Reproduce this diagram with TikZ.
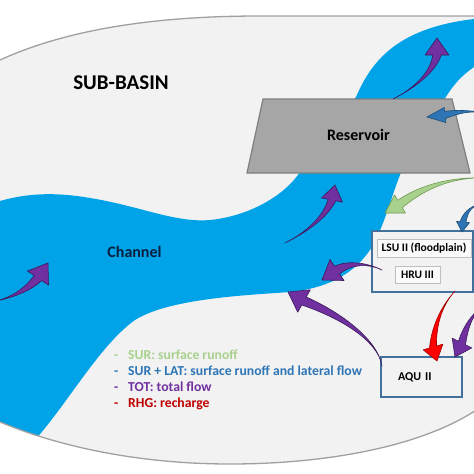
\documentclass[tikz,border=0pt]{standalone}
\usepackage{fontspec}
\setmainfont{Carlito}
\usetikzlibrary{calc}

\definecolor{basinfill}{HTML}{F2F2F2}
\definecolor{basinline}{HTML}{A0A0A0}
\definecolor{channelblue}{HTML}{00A2E8}
\definecolor{resfill}{HTML}{A6A6A6}
\definecolor{resline}{HTML}{7F7F7F}
\definecolor{boxline}{HTML}{41719C}
\definecolor{innerline}{HTML}{BFBFBF}
\definecolor{channeltext}{HTML}{0B1F3F}
\definecolor{totfill}{HTML}{7030A0}
\definecolor{totline}{HTML}{3A1A5A}
\definecolor{latfill}{HTML}{2E75B6}
\definecolor{latline}{HTML}{1F4E79}
\definecolor{surfill}{HTML}{A9D18E}
\definecolor{surline}{HTML}{6E9A4E}
\definecolor{rhgfill}{HTML}{FF0000}
\definecolor{rhgline}{HTML}{A00000}
\definecolor{rhgtext}{HTML}{C00000}

\tikzset{
  basin/.style={fill=basinfill},
  basinedge/.style={draw=basinline, line width=1.3pt},
  channel/.style={fill=channelblue},
  reservoir/.style={fill=resfill, draw=resline, line width=1.2pt},
  title/.style={font=\bfseries\fontsize{21}{24}\selectfont},
  bigtext/.style={font=\bfseries\fontsize{16}{18}\selectfont},
  unitbox/.style={draw=boxline, line width=1.6pt, fill=basinfill,
    font=\bfseries\fontsize{12}{14}\selectfont},
  labelbox/.style={draw=innerline, line width=0.8pt, fill=white!60!basinfill,
    inner sep=0pt, font=\bfseries\fontsize{11.5}{13}\selectfont},
  legend/.style={font=\bfseries\fontsize{13.7}{16}\selectfont, inner sep=0pt},
  barb/.store in=\barbw, barb=0.7,
  neck/.store in=\neckw, neck=0.25,
  tot/.style={fill=totfill, draw=totline, line width=0.6pt},
  lat/.style={fill=latfill, draw=latline, line width=0.6pt},
  sur/.style={fill=surfill, draw=surline, line width=0.6pt},
  rhg/.style={fill=rhgfill, draw=rhgline, line width=0.6pt}
}

% curved block arrow: style, tail, control 1, control 2, neck, tip
\newcommand\flowarrow[6]{%
  \begin{scope}[#1]
    \coordinate (nl) at ($(#5)!\neckw!90:(#6)$);
    \coordinate (nr) at ($(#5)!\neckw!-90:(#6)$);
    \coordinate (bl) at ($(#5)!\barbw!90:(#6)$);
    \coordinate (br) at ($(#5)!\barbw!-90:(#6)$);
    \coordinate (cl) at ($(#4)+0.6*(nl)-0.6*(#5)$);
    \coordinate (cr) at ($(#4)+0.6*(nr)-0.6*(#5)$);
    \draw[#1, line join=round] (#2) .. controls (#3) and (cl) .. (nl) -- (bl)
      -- (#6) -- (br) -- (nr) .. controls (cr) and (#3) .. cycle;
  \end{scope}}

\newcommand\basinshape{(0,60) .. controls (70,28) and (160,16) .. (260,16)
  -- (490,16) -- (490,400) .. controls (435,445) and (330,464) .. (230,464)
  .. controls (140,464) and (60,447) .. (0,422) -- cycle}

\begin{document}
\begin{tikzpicture}[x=1pt, y=-1pt]
  \useasboundingbox (0,0) rectangle (474,474);
  \clip (0,0) rectangle (474,474);

  % sub-basin with the channel
  \fill[basin] \basinshape;
  \begin{scope}
    \clip \basinshape;
    \fill[channel] (-10,204) .. controls (20,194) and (50,191) .. (90,198)
      .. controls (140,206) and (175,223) .. (210,220)
      .. controls (250,216) and (285,195) .. (300,172)
      .. controls (320,140) and (340,118) .. (356,97)
      .. controls (372,60) and (398,28) .. (474,19) -- (490,14) -- (490,62)
      -- (474,67) .. controls (458,78) and (450,90) .. (444,100)
      .. controls (425,130) and (410,150) .. (400,175)
      .. controls (390,200) and (385,225) .. (370,250)
      .. controls (355,272) and (330,288) .. (290,292)
      .. controls (250,295) and (170,298) .. (135,320)
      .. controls (100,345) and (70,400) .. (35,440) -- (-10,445) -- cycle;
  \end{scope}
  \draw[basinedge] (0,60) .. controls (70,28) and (160,16) .. (260,16) -- (490,16);
  \draw[basinedge] (490,400) .. controls (435,445) and (330,464) .. (230,464)
    .. controls (140,464) and (60,447) .. (0,422);

  \draw[reservoir] (247,173) -- (263,99) -- (452,99) -- (470,173) -- cycle;
  \node[bigtext, anchor=base] (reservoirlabel) at (358.5,140.5) {Reservoir};
  \node[title, anchor=base] (subbasin) at (121,89.5) {SUB-BASIN};
  \node[bigtext, text=channeltext, anchor=base] (channel) at (134.5,257) {Channel};

  % units
  \node[unitbox, minimum width=101pt, minimum height=61pt] (lsu) at (422.5,261.5) {};
  \node[labelbox, minimum width=94pt, minimum height=18pt] (lsulabel) at (424,248) {LSU II (floodplain)};
  \node[labelbox, minimum width=45pt, minimum height=17pt] (hru) at (417.5,274.5) {HRU III};
  \node[unitbox, minimum height=40pt, text width=47pt, inner xsep=17pt, align=left] (aqu) at (421.5,377) {AQU II};

  % arrow ends
  \coordinate (resoutT) at (393,99);   \coordinate (resoutP) at (437,38);
  \coordinate (chanupT) at (285,243);  \coordinate (chanupP) at (335,185);
  \coordinate (chanlfT) at (-8,302);   \coordinate (chanlfP) at (48,263);
  \coordinate (hruoutT) at (382,270);  \coordinate (hruoutP) at (322,280);
  \coordinate (aquoutT) at (382,366);  \coordinate (aquoutP) at (288,292);
  \coordinate (aquinT) at (484,305);   \coordinate (aquinP) at (455,357);
  \coordinate (rechT) at (455,291);    \coordinate (rechP) at (437,361);
  \coordinate (resinT) at (484,113);   \coordinate (resinP) at (427,117);
  \coordinate (surT) at (484,178);     \coordinate (surP) at (385,213);
  \coordinate (lsuinT) at (484,203);   \coordinate (lsuinP) at (462,232);

  \flowarrow{tot}{resoutT}{415,88}{433,72}{437,55}{resoutP}
  \flowarrow{tot}{chanupT}{305,233}{325,218}{332,200}{chanupP}
  \flowarrow{tot}{chanlfT}{10,298}{25,292}{38,278}{chanlfP}
  \flowarrow{tot}{hruoutT}{368,263}{350,262}{337,270}{hruoutP}
  \flowarrow{tot}{aquoutT}{378,340}{340,315}{304,301}{aquoutP}
  \flowarrow{tot}{aquinT}{474,312}{466,325}{462,343}{aquinP}
  \flowarrow{rhg}{rechT}{444,303}{434,322}{433,347}{rechP}
  \flowarrow{lat, barb=0.42, neck=0.2}{resinT}{470,110}{456,112}{445,115}{resinP}
  \flowarrow{sur, barb=0.6}{surT}{455,177}{425,185}{400,204}{surP}
  \flowarrow{lat, barb=0.65, neck=0.3}{lsuinT}{473,205}{466,210}{463,222}{lsuinP}

  % legend
  \foreach \col/\txt [count=\i] in {surfill/SUR: surface runoff,
      latfill/SUR + LAT: surface runoff and lateral flow,
      totfill/TOT: total flow, rhgtext/RHG: recharge}
    \node[legend, text=\col, anchor=base west] (leg\i) at (114,343.5+16*\i)
      {\makebox[14pt][l]{-}\txt};
\end{tikzpicture}
\end{document}
